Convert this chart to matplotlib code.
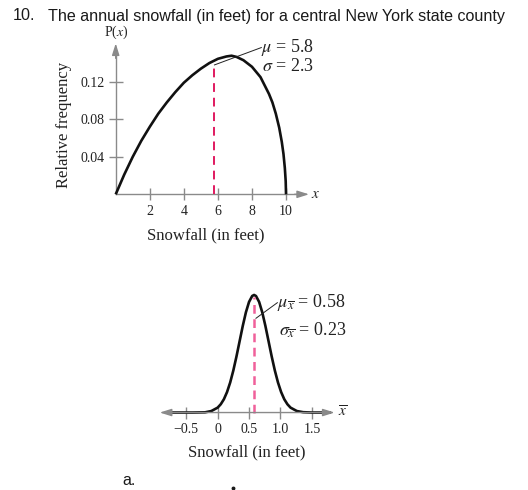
import matplotlib
matplotlib.use('Agg')
import matplotlib.pyplot as plt
from matplotlib.lines import Line2D

plt.rcParams['font.family'] = ['Liberation Serif', 'DejaVu Serif']
plt.rcParams['mathtext.fontset'] = 'stix'

# population distribution
snow_x = [0, 0.5, 1.0, 1.5, 2.0, 2.5, 3.0, 3.5, 4.0, 4.5, 5.0, 5.5, 6.0, 6.5, 6.8,
          7.1, 7.5, 8.0, 8.5, 9.0, 9.2, 9.4, 9.6, 9.75, 9.85, 9.93, 9.98, 10.0]
snow_p = [0, 0.021, 0.040, 0.057, 0.072, 0.086, 0.098, 0.109, 0.119, 0.127, 0.134,
          0.140, 0.1445, 0.147, 0.1478, 0.1465, 0.143, 0.136, 0.125, 0.107, 0.098,
          0.086, 0.071, 0.056, 0.043, 0.028, 0.014, 0.0]
top_xticks = [2, 4, 6, 8, 10]
top_yticks = [0.04, 0.08, 0.12]
top_yticklabels = ['0.04', '0.08', '0.12']
mu, sigma = 5.8, 2.3

# sampling distribution of the mean
mean_x = [-0.76, -0.40, -0.20, -0.10, 0.00, 0.05, 0.10, 0.15, 0.20, 0.25, 0.30, 0.35,
          0.40, 0.45, 0.50, 0.55, 0.58, 0.61, 0.66, 0.71, 0.76, 0.81, 0.86, 0.91,
          0.96, 1.01, 1.06, 1.11, 1.16, 1.26, 1.36, 1.50, 1.78]
mean_p = [0.0, 0.0, 0.003, 0.022, 0.072, 0.122, 0.196, 0.302, 0.443, 0.620, 0.827,
          1.052, 1.277, 1.478, 1.632, 1.719, 1.734, 1.719, 1.632, 1.478, 1.277, 1.052,
          0.827, 0.620, 0.443, 0.302, 0.196, 0.122, 0.072, 0.022, 0.005, 0.0, 0.0]
bot_xticks = [-0.5, 0, 0.5, 1.0, 1.5]
bot_xticklabels = ['\u22120.5', '0', '0.5', '1.0', '1.5']
mu_bar, sigma_bar = 0.58, 0.23

W, H = 528, 490
GRAY = '#8a8a8a'
TXT = '#222222'


def box(x0, x1, y0, y1):
    # pixel box -> figure fraction
    return [x0 / W, 1 - y1 / H, (x1 - x0) / W, (y1 - y0) / H]


def ftext(x, y, s, **kw):
    fig.text(x / W, 1 - y / H, s, **kw)


def setup(ax, xlim, ylim):
    ax.set_xlim(*xlim)
    ax.set_ylim(*ylim)
    ax.patch.set_alpha(0)
    for s in ['top', 'right', 'left', 'bottom']:
        ax.spines[s].set_visible(False)
    ax.spines['bottom'].set_position(('data', 0))
    ax.spines['left'].set_position(('data', 0))


fig = plt.figure(figsize=(W / 100, H / 100), dpi=100)

# ---- top chart
ax1 = fig.add_axes(box(98.67, 320.1, 34.9, 203.7))
setup(ax1, (-1, 12), (-0.01, 0.17))
ax1.plot([0, 11.0], [0, 0], color=GRAY, lw=1)
ax1.plot([0, 0], [0, 0.152], color=GRAY, lw=1)
ax1.annotate('', xy=(11.35, 0), xytext=(10.5, 0),
             arrowprops=dict(arrowstyle='-|>,head_length=0.7,head_width=0.22',
                             color=GRAY, lw=1, shrinkA=0, shrinkB=0))
ax1.annotate('', xy=(0, 0.161), xytext=(0, 0.145),
             arrowprops=dict(arrowstyle='-|>,head_length=0.7,head_width=0.22',
                             color=GRAY, lw=1, shrinkA=0, shrinkB=0))
ax1.set_xticks(top_xticks)
ax1.set_xticklabels([str(t) for t in top_xticks])
ax1.set_yticks(top_yticks)
ax1.set_yticklabels(top_yticklabels)
ax1.tick_params(axis='x', direction='inout', length=8, width=1, color=GRAY,
                labelcolor=TXT, labelsize=10, pad=4)
ax1.tick_params(axis='y', direction='inout', length=9.5, width=1, color=GRAY,
                labelcolor=TXT, labelsize=10, pad=3)
ax1.plot(snow_x, snow_p, color='#111111', lw=1.9, solid_joinstyle='round',
         solid_capstyle='butt')
ax1.plot([mu, mu], [0, 0.138], color='#e0195f', lw=1.4, dashes=(4.5, 3))
ax1.plot([mu, 8.55], [0.138, 0.1565], color='#222222', lw=0.7)
ax1.text(8.55, 0.1565, r'$\mu$ = %.1f' % mu, fontsize=13, va='center', ha='left',
         color=TXT)
ax1.text(8.6, 0.136, r'$\sigma$ = %.1f' % sigma, fontsize=13, va='center',
         ha='left', color=TXT)
ax1.text(11.75, 0, r'$x$', fontsize=11, va='center', ha='center', color=TXT)

ftext(116, 32, r'P($x$)', fontsize=10, ha='center', va='center', color=TXT)
ftext(64, 125, 'Relative frequency', fontsize=12, rotation=90, ha='center',
      va='center', color=TXT)
ftext(206, 235, 'Snowfall (in feet)', fontsize=12, ha='center', va='center',
      color=TXT)

# ---- bottom chart
ax2 = fig.add_axes(box(154.7, 343.4, 283.7, 426.1))
setup(ax2, (-1, 2), (-0.2, 1.9))
ax2.annotate('', xy=(-0.92, 0), xytext=(1.86, 0),
             arrowprops=dict(arrowstyle='<|-|>,head_length=0.7,head_width=0.22',
                             color=GRAY, lw=1, shrinkA=0, shrinkB=0))
ax2.set_xticks(bot_xticks)
ax2.set_xticklabels(bot_xticklabels)
ax2.set_yticks([])
ax2.tick_params(axis='x', direction='inout', length=8.6, width=1, color=GRAY,
                labelcolor=TXT, labelsize=10, pad=3)
ax2.plot(mean_x, mean_p, color='#111111', lw=1.9, solid_joinstyle='round')
ax2.plot([mu_bar, mu_bar], [0, 1.70], color='#f0609a', lw=1.8, dashes=(3.5, 2.2))
ax2.plot([0.61, 0.95], [1.39, 1.62], color='#222222', lw=0.7)
ax2.text(0.94, 1.62, r'$\mu_{\overline{x}}$ = %.2f' % mu_bar, fontsize=13,
         va='center', ha='left', color=TXT)
ax2.text(0.97, 1.22, r'$\sigma_{\overline{x}}$ = %.2f' % sigma_bar, fontsize=13,
         va='center', ha='left', color=TXT)
ax2.text(1.99, 0, r'$\overline{x}$', fontsize=11, va='center', ha='center',
         color=TXT)

ftext(246.7, 452.7, 'Snowfall (in feet)', fontsize=12, ha='center', va='center',
      color=TXT)

# ---- header / footer text
ftext(13, 16, '10.', fontsize=11.6, ha='left', va='center',
      family='Liberation Sans', color='#1a1a1a')
ftext(48, 16, 'The annual snowfall (in feet) for a central New York state county',
      fontsize=11.6, ha='left', va='center', family='Liberation Sans',
      color='#1a1a1a')
ftext(122, 480, 'a.', fontsize=11.6, ha='left', va='center',
      family='Liberation Sans', color='#1a1a1a')
fig.add_artist(Line2D([233 / W], [1 - 487.5 / H], marker='o', ms=1.8,
                      color='#1a1a1a', transform=fig.transFigure))

fig.savefig('out.png', dpi=100)
